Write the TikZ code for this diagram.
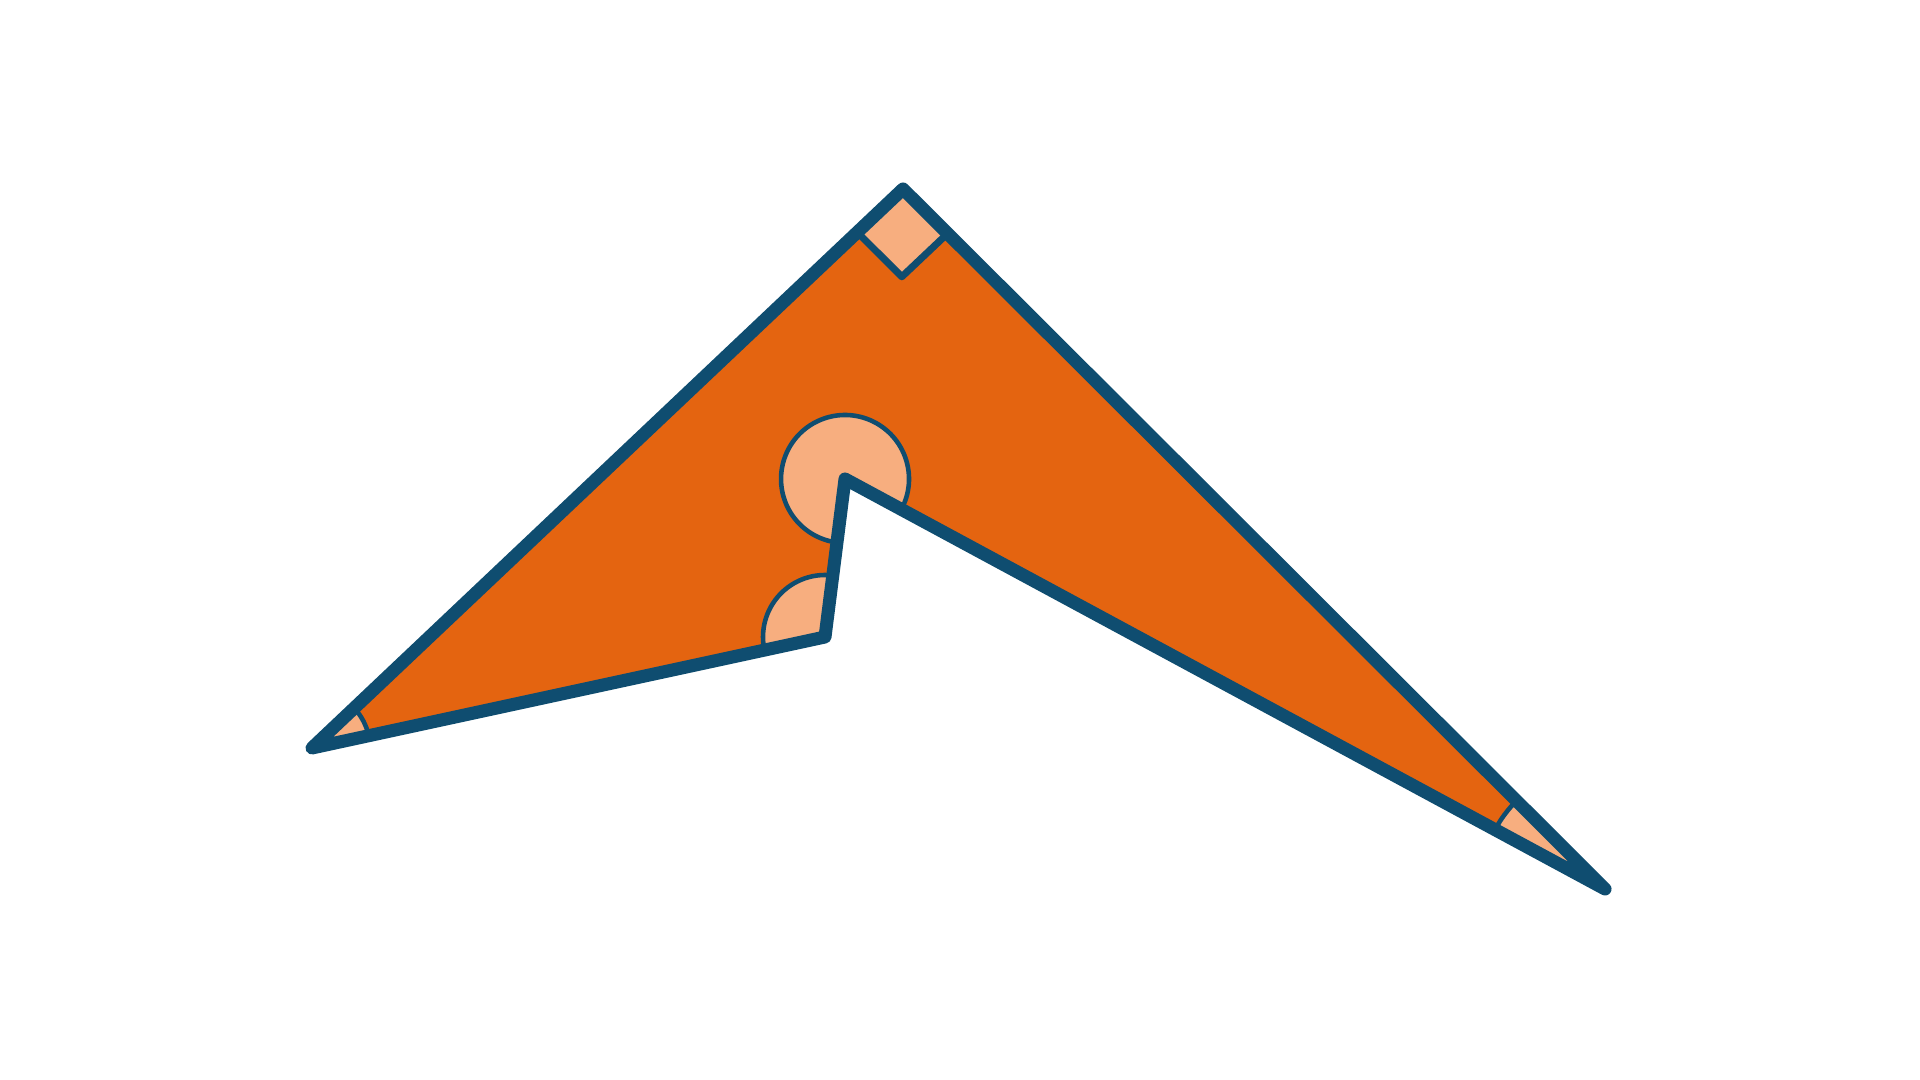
\documentclass[tikz,border=0pt]{standalone}
\usepackage{xcolor}
\usepackage{tikz}
\usetikzlibrary{calc,angles}
\definecolor{bg}{HTML}{FFFFFF}
\definecolor{shapefill}{HTML}{E46410}
\definecolor{peach}{HTML}{F7AE7F}
\definecolor{navy}{HTML}{0F4D70}
\tikzset{
  body/.style={fill=shapefill, draw=none},
  base/.style={draw=navy, line width=3.7pt, line cap=round, line join=round},
  ang/.style={draw=navy, fill=peach, line width=1.3pt},
  sqr/.style={draw=navy, fill=peach, line width=2.0pt, line join=round}
}
\begin{document}
\begin{tikzpicture}
  \useasboundingbox[fill=bg] (0,0) rectangle (19.2,10.8);
  \coordinate (T) at (9.03,8.91);
  \coordinate (E) at (16.05,1.91);
  \coordinate (R) at (8.45,6.01);
  \coordinate (B) at (8.25,4.43);
  \coordinate (L) at (3.12,3.32);
  \fill[body] (T) -- (E) -- (R) -- (B) -- (L) -- cycle;
  % angle marks
  \coordinate (sqL) at ($(T)!0.63cm!(L)$);
  \coordinate (sqE) at ($(T)!0.63cm!(E)$);
  \draw[sqr] (T) -- (sqL) -- ($(sqL)+(sqE)-(T)$) -- (sqE) -- cycle;
  \pic[ang, angle radius=0.64cm] {angle=E--R--B};
  \pic[ang, angle radius=0.62cm] {angle=R--B--L};
  \pic[ang, angle radius=0.58cm] {angle=B--L--T};
  \pic[ang, angle radius=1.25cm] {angle=T--E--R};
  \draw[base] (T) -- (E) -- (R) -- (B) -- (L) -- cycle;
\end{tikzpicture}
\end{document}
